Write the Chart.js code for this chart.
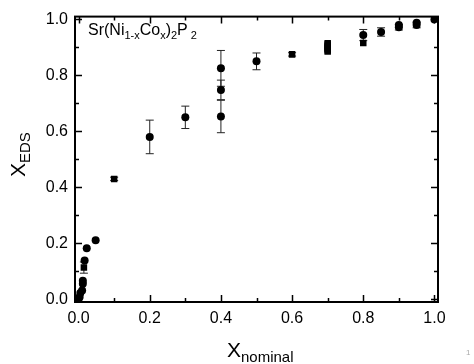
<!DOCTYPE html>
<html><head><meta charset="utf-8">
<script src="https://cdn.jsdelivr.net/npm/chart.js@4/dist/chart.umd.min.js"></script>
<style>html,body{margin:0;padding:0;background:#fff;}#wrap{width:474px;height:364px;}</style>
</head><body><div id="wrap"><canvas id="c" width="474" height="364"></canvas></div>
<script>
// ---- data ----
const circleX   = [0.0, 0.003, 0.005, 0.01, 0.012, 0.012, 0.017, 0.023, 0.048, 0.2, 0.3, 0.4, 0.4, 0.4, 0.5, 0.8, 0.85, 0.9, 0.9, 0.95, 0.95, 1.0];
const circleY   = [0.0, 0.008, 0.022, 0.031, 0.055, 0.066, 0.138, 0.182, 0.211, 0.58, 0.65, 0.825, 0.748, 0.653, 0.85, 0.944, 0.955, 0.972, 0.98, 0.98, 0.988, 1.0];
const circleErr = [0, 0, 0, 0, 0, 0, 0, 0, 0, 0.06, 0.04, 0.064, 0.035, 0.058, 0.03, 0.02, 0.015, 0.01, 0, 0.01, 0, 0];
const squareX   = [0.015, 0.1, 0.6, 0.7, 0.7, 0.7, 0.7, 0.7, 0.7, 0.7, 0.8];
const squareY   = [0.113, 0.43, 0.875, 0.885, 0.89, 0.895, 0.90, 0.905, 0.91, 0.915, 0.916];
const squareErr = [0.02, 0.006, 0.006, 0, 0, 0, 0, 0, 0, 0, 0];
const xTickLabels = [0.0, 0.2, 0.4, 0.6, 0.8, 1.0];
const yTickLabels = [0.0, 0.2, 0.4, 0.6, 0.8, 1.0];
const xMinorTicks = [0.1, 0.3, 0.5, 0.7, 0.9];
const yMinorTicks = [0.1, 0.3, 0.5, 0.7, 0.9];
const axisMin = -0.01, axisMax = 1.01;

const FONT = '"Liberation Sans", Arial, sans-serif';

function pts(xs, ys) { return xs.map((x, i) => ({x: x, y: ys[i]})); }

const errorBars = {
  id: 'errorBars',
  beforeDatasetsDraw(chart) {
    const ctx = chart.ctx, xs = chart.scales.x, ys = chart.scales.y;
    ctx.save();
    ctx.strokeStyle = '#222';
    ctx.lineWidth = 1;
    chart.data.datasets.forEach(ds => {
      (ds.errors || []).forEach((e, i) => {
        if (!e) return;
        const p = ds.data[i];
        const px = xs.getPixelForValue(p.x);
        const y1 = ys.getPixelForValue(p.y - e), y2 = ys.getPixelForValue(p.y + e);
        ctx.beginPath();
        ctx.moveTo(px, y1); ctx.lineTo(px, y2);
        ctx.moveTo(px - 4, y1); ctx.lineTo(px + 4, y1);
        ctx.moveTo(px - 4, y2); ctx.lineTo(px + 4, y2);
        ctx.stroke();
      });
    });
    ctx.restore();
  }
};

function drawParts(ctx, parts, x, y) {
  let cx = x;
  parts.forEach(p => {
    ctx.font = p.s + 'px ' + FONT;
    ctx.fillText(p.t, cx, y + (p.dy || 0));
    cx += ctx.measureText(p.t).width + (p.gap || 0);
  });
}

const frameAndText = {
  id: 'frameAndText',
  afterDraw(chart) {
    const ctx = chart.ctx, a = chart.chartArea, xs = chart.scales.x, ys = chart.scales.y;
    ctx.save();
    ctx.strokeStyle = '#000';
    ctx.lineWidth = 2;
    ctx.strokeRect(a.left, a.top, a.right - a.left, a.bottom - a.top);
    ctx.lineWidth = 1.5;
    ctx.beginPath();
    const tickX = (v, len) => {
      const px = Math.round(xs.getPixelForValue(v)) + 0.5;
      ctx.moveTo(px, a.bottom); ctx.lineTo(px, a.bottom - len);
      ctx.moveTo(px, a.top); ctx.lineTo(px, a.top + len);
    };
    const tickY = (v, len) => {
      const py = Math.round(ys.getPixelForValue(v)) + 0.5;
      ctx.moveTo(a.left, py); ctx.lineTo(a.left + len, py);
      ctx.moveTo(a.right, py); ctx.lineTo(a.right - len, py);
    };
    xTickLabels.forEach(v => tickX(v, 7));
    xMinorTicks.forEach(v => tickX(v, 4));
    yTickLabels.forEach(v => tickY(v, 7));
    yMinorTicks.forEach(v => tickY(v, 4));
    ctx.stroke();

    ctx.fillStyle = '#000';
    ctx.textBaseline = 'alphabetic';
    ctx.textAlign = 'left';
    // compound label
    drawParts(ctx, [
      {t: 'Sr(Ni', s: 16}, {t: '1-x', s: 11, dy: 4}, {t: 'Co', s: 16}, {t: 'x', s: 11, dy: 4},
      {t: ')', s: 16}, {t: '2', s: 11, dy: 4}, {t: 'P', s: 16, gap: 3}, {t: '2', s: 11, dy: 4}
    ], 88, 35);
    // x title
    drawParts(ctx, [{t: 'X', s: 21}, {t: 'nominal', s: 15, dy: 5}], 227, 357);
    // y title (rotated)
    ctx.save();
    ctx.translate(25, 177);
    ctx.rotate(-Math.PI / 2);
    drawParts(ctx, [{t: 'X', s: 21}, {t: 'EDS', s: 15, dy: 5}], 0, 0);
    ctx.restore();
    // page mark
    ctx.fillStyle = '#aaa';
    ctx.font = '8px ' + FONT;
    ctx.fillText('1', 466, 355);
    ctx.restore();
  }
};

new Chart(document.getElementById('c'), {
  type: 'scatter',
  data: {
    datasets: [
      {data: pts(circleX, circleY), errors: circleErr, pointStyle: 'circle', pointRadius: 4,
       backgroundColor: '#000', borderColor: '#000', borderWidth: 0, pointHoverRadius: 4},
      {data: pts(squareX, squareY), errors: squareErr, pointStyle: 'rect', pointRadius: 4.6,
       backgroundColor: '#000', borderColor: '#000', borderWidth: 0, pointHoverRadius: 4.6}
    ]
  },
  options: {
    responsive: false, animation: false, devicePixelRatio: 1,
    layout: {padding: {left: 0, top: 9, right: 36, bottom: 0}},
    plugins: {legend: {display: false}, tooltip: {enabled: false}},
    scales: {
      x: {
        type: 'linear', min: axisMin, max: axisMax,
        grid: {display: false, drawTicks: false}, border: {display: false},
        afterBuildTicks: s => { s.ticks = xTickLabels.map(v => ({value: v})); },
        afterFit: s => { s.height = 62; },
        ticks: {autoSkip: false, maxRotation: 0, padding: 7, color: '#000',
                font: {family: FONT, size: 16}, callback: v => Number(v).toFixed(1)}
      },
      y: {
        type: 'linear', min: axisMin, max: axisMax,
        grid: {display: false, drawTicks: false}, border: {display: false},
        afterBuildTicks: s => { s.ticks = yTickLabels.map(v => ({value: v})); },
        afterFit: s => { s.width = 75; },
        ticks: {autoSkip: false, padding: 7, color: '#000',
                font: {family: FONT, size: 16}, callback: v => Number(v).toFixed(1)}
      }
    }
  },
  plugins: [errorBars, frameAndText]
});
</script></body></html>
